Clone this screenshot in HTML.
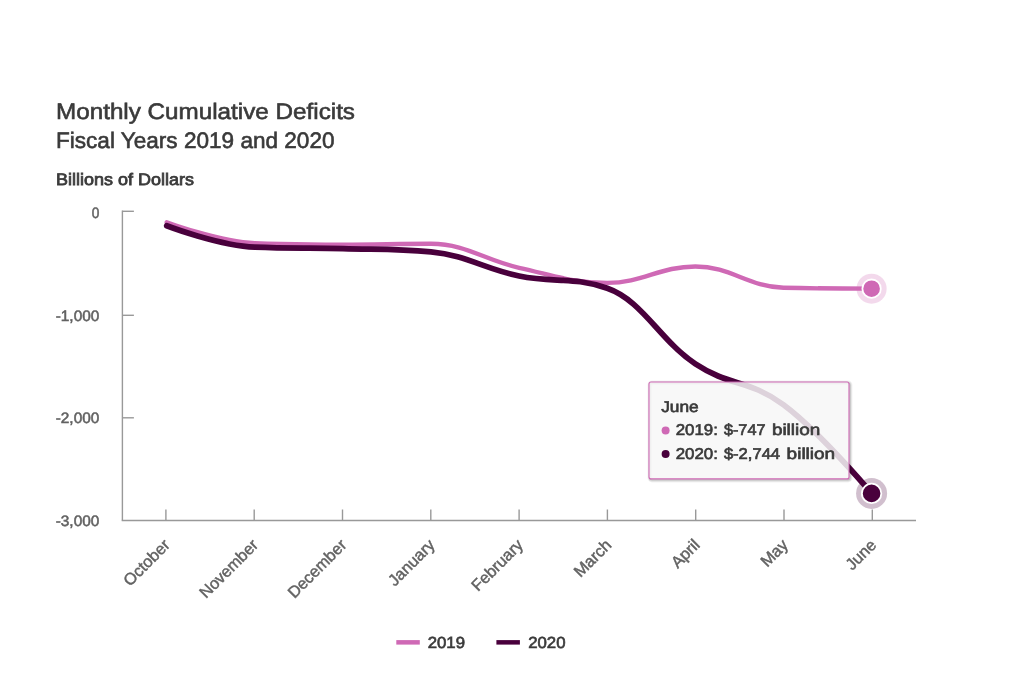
<!DOCTYPE html>
<html><head><meta charset="utf-8"><title>Monthly Cumulative Deficits</title>
<style>
html,body{margin:0;padding:0;background:#fff;}
body{width:1024px;height:682px;overflow:hidden;font-family:"Liberation Sans",sans-serif;}
svg{display:block;font-family:"Liberation Sans",sans-serif;text-rendering:geometricPrecision;}
.title{font-size:22.4px;fill:#3a3a3a;stroke:#3a3a3a;stroke-width:.6px;}
.sub{font-size:16.6px;fill:#3a3a3a;stroke:#3a3a3a;stroke-width:.78px;}
.ax text{font-size:16.3px;fill:#626262;stroke:#626262;stroke-width:.45px;}
text.yl{font-size:15.1px !important;stroke-width:.55px !important;}
.axl path{stroke:#999;stroke-width:1.4;fill:none;}
.tt text{font-size:15.7px;fill:#3a3a3a;stroke:#3a3a3a;stroke-width:.65px;}
.lg text{font-size:16.1px;fill:#3a3a3a;stroke:#3a3a3a;stroke-width:.65px;}
</style></head><body>
<svg width="1024" height="682" viewBox="0 0 1024 682">
<defs><filter id="g" x="0" y="0" width="1024" height="682" filterUnits="userSpaceOnUse"><feOffset dx="0" dy="0"/></filter></defs>
<rect width="1024" height="682" fill="#fff"/>
<g filter="url(#g)">
<text class="title" x="56" y="118.5" textLength="299" lengthAdjust="spacingAndGlyphs">Monthly Cumulative Deficits</text>
<text class="title" x="56" y="148.2" textLength="278.5" lengthAdjust="spacingAndGlyphs">Fiscal Years 2019 and 2020</text>
<text class="sub" x="56" y="185.0" textLength="138" lengthAdjust="spacingAndGlyphs">Billions of Dollars</text>
<g class="axl">
<path d="M122.4 210.6 V520.5"/><path d="M121.7 520.5 H916"/>
<path d="M122.4 211.3 H133.9"/><path d="M122.4 315.3 H133.9"/><path d="M122.4 417.8 H133.9"/><path d="M165.9 520.5 V509.5"/><path d="M254.2 520.5 V509.5"/><path d="M342.5 520.5 V509.5"/><path d="M430.8 520.5 V509.5"/><path d="M519.1 520.5 V509.5"/><path d="M607.4 520.5 V509.5"/><path d="M695.7 520.5 V509.5"/><path d="M784.0 520.5 V509.5"/><path d="M872.3 520.5 V509.5"/>
</g>
<g class="ax"><text class="yl" x="91.7" y="218.35" textLength="7.6" lengthAdjust="spacingAndGlyphs">0</text><text class="yl" x="55.7" y="320.75" textLength="43.6" lengthAdjust="spacingAndGlyphs">-1,000</text><text class="yl" x="55.7" y="423.25" textLength="43.6" lengthAdjust="spacingAndGlyphs">-2,000</text><text class="yl" x="55.7" y="525.95" textLength="43.6" lengthAdjust="spacingAndGlyphs">-3,000</text><text transform="translate(170.9 546.0) rotate(-45)" text-anchor="end">October</text><text transform="translate(259.2 546.0) rotate(-45)" text-anchor="end">November</text><text transform="translate(347.5 546.0) rotate(-45)" text-anchor="end">December</text><text transform="translate(435.8 546.0) rotate(-45)" text-anchor="end">January</text><text transform="translate(524.1 546.0) rotate(-45)" text-anchor="end">February</text><text transform="translate(612.4 546.0) rotate(-45)" text-anchor="end">March</text><text transform="translate(700.7 546.0) rotate(-45)" text-anchor="end">April</text><text transform="translate(789.0 546.0) rotate(-45)" text-anchor="end">May</text><text transform="translate(877.3 546.0) rotate(-45)" text-anchor="end">June</text></g>
<path d="M 166.70 222.25 C 166.70 222.25 219.57 241.84 254.81 243.27 C 290.05 244.71 307.68 244.71 342.92 244.71 C 378.16 244.71 395.79 243.78 431.03 243.78 C 466.27 243.78 483.90 259.96 519.14 267.78 C 554.38 275.59 572.01 282.85 607.25 282.85 C 642.49 282.85 660.12 266.44 695.36 266.44 C 730.60 266.44 748.23 286.95 783.47 287.77 C 818.71 288.59 871.58 288.59 871.58 288.59" fill="none" stroke="#cf69b5" stroke-width="4.4" stroke-linecap="round" stroke-linejoin="round"/>
<path d="M 166.70 225.74 C 166.70 225.74 219.57 245.73 254.81 247.17 C 290.05 248.60 307.68 247.66 342.92 248.60 C 378.16 249.55 395.79 248.60 431.03 251.88 C 466.27 255.17 483.90 268.80 519.14 276.08 C 554.38 283.36 572.01 276.08 607.25 288.28 C 642.49 300.48 660.12 340.55 695.36 363.85 C 730.60 387.14 748.23 378.86 783.47 404.76 C 818.71 430.66 871.58 493.34 871.58 493.34" fill="none" stroke="#49003c" stroke-width="5.7" stroke-linecap="round" stroke-linejoin="round"/>
<circle cx="871.6" cy="288.7" r="15" fill="#cf69b5" fill-opacity=".25"/>
<circle cx="871.6" cy="288.7" r="9.2" fill="#cf69b5" stroke="#fff" stroke-width="1.8"/>
<circle cx="871.6" cy="493.4" r="15.5" fill="#49003c" fill-opacity=".25"/>
<circle cx="871.6" cy="493.4" r="9.7" fill="#49003c" stroke="#fff" stroke-width="1.8"/>
<g class="tt">
<g fill="none" stroke="#000" transform="translate(1 1)"><rect x="649" y="382" width="200" height="96.9" rx="2" stroke-width="5" stroke-opacity=".05"/><rect x="649" y="382" width="200" height="96.9" rx="2" stroke-width="3" stroke-opacity=".1"/><rect x="649" y="382" width="200" height="96.9" rx="2" stroke-width="1" stroke-opacity=".15"/></g>
<rect x="649" y="382" width="200" height="96.9" rx="2" fill="#f7f7f7" fill-opacity=".85" stroke="#cf69b5" stroke-width="1.1"/>
<text x="661.2" y="412.1" textLength="37.5" lengthAdjust="spacingAndGlyphs">June</text>
<circle cx="665.6" cy="430.6" r="4" fill="#cf69b5"/>
<text x="675.7" y="435.4" textLength="42.2" lengthAdjust="spacingAndGlyphs">2019:</text><text x="723.9" y="435.4" textLength="41.6" lengthAdjust="spacingAndGlyphs">$-747</text><text x="771.9" y="435.4" textLength="48.4" lengthAdjust="spacingAndGlyphs">billion</text>
<circle cx="665.6" cy="454" r="4" fill="#49003c"/>
<text x="675.7" y="458.8" textLength="42.2" lengthAdjust="spacingAndGlyphs">2020:</text><text x="723.9" y="458.8" textLength="56.2" lengthAdjust="spacingAndGlyphs">$-2,744</text><text x="786.6" y="458.8" textLength="48.6" lengthAdjust="spacingAndGlyphs">billion</text>
</g>
<g class="lg">
<rect x="396.3" y="640.1" width="23.5" height="4.5" fill="#cf69b5"/>
<text x="427.7" y="648.3" textLength="37.3" lengthAdjust="spacingAndGlyphs">2019</text>
<rect x="496.4" y="640.1" width="23.5" height="4.5" fill="#49003c"/>
<text x="528.2" y="648.3" textLength="37.3" lengthAdjust="spacingAndGlyphs">2020</text>
</g>
</g>
</svg>
</body></html>
